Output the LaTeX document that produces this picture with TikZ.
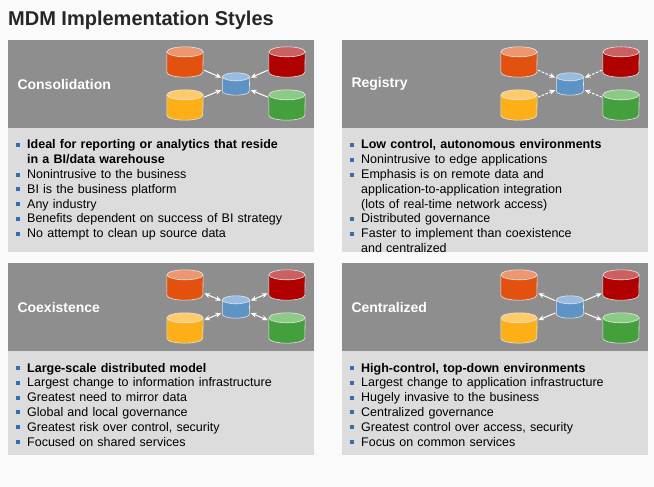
\documentclass[tikz,border=0pt]{standalone}
\usepackage{fontspec}
\setmainfont{Liberation Sans}
\usetikzlibrary{arrows.meta}
\definecolor{headgray}{HTML}{8E8E8E}
\definecolor{bodygray}{HTML}{DCDCDC}
\definecolor{bulblue}{HTML}{2F6DB5}
\definecolor{dbor}{HTML}{E2520E}\definecolor{dbort}{HTML}{EE9670}
\definecolor{dbre}{HTML}{B00000}\definecolor{dbret}{HTML}{CC6060}
\definecolor{dbye}{HTML}{FDAF17}\definecolor{dbyet}{HTML}{FDCB6A}
\definecolor{dbgr}{HTML}{44A03D}\definecolor{dbgrt}{HTML}{8CCB86}
\definecolor{dbbl}{HTML}{5E93C5}\definecolor{dbblt}{HTML}{96BCE0}
\tikzset{
  dbedge/.style={draw=white!80!gray, line width=0.6pt},
  link/.style={draw=white, line width=1pt, -{Stealth[length=6pt,width=5pt]}, shorten >=1pt, shorten <=1pt},
  head/.style={font=\bfseries\fontsize{14}{16}\selectfont, text=white, anchor=west},
  body/.style={anchor=north west, text width=272pt, inner sep=0pt, font=\fontsize{12.5}{14.8}\selectfont, align=left},
}
\newcommand\bul{\par\hangindent=11pt\hangafter=1\noindent\makebox[11pt][l]{\textcolor{bulblue}{\rule[2pt]{4pt}{4pt}}}}
% database: name, x, y, half width, height, top radius, body colour, top colour
\newcommand\dbnode[8]{
  \node[inner sep=0pt, minimum width=2*#4 pt, minimum height=#5 pt] (#1) at (#2,#3) {};
  \fill[#7, dbedge] ([yshift=-#6pt]#1.north west) -- ([yshift=#6pt]#1.south west)
    arc[start angle=180, end angle=360, x radius=#4pt, y radius=#6pt]
    -- ([yshift=-#6pt]#1.north east) -- cycle;
  \fill[#8, dbedge] ([yshift=-#6pt]#1.north) ellipse[x radius=#4pt, y radius=#6pt];
}
% panel: origin x, origin y, body height, header
\newcommand\mdmpanel[4]{
  \fill[headgray] (#1,#2) rectangle ++(306,88);
  \fill[bodygray] (#1,#2+88) rectangle ++(306,#3);
  \node[head] at (#1+6,#2+44) {#4};
}
\newcommand\mdmdbs[3]{
  \dbnode{#3o}{#1+177}{#2+22}{18}{30}{5}{dbor}{dbort}
  \dbnode{#3r}{#1+279}{#2+22}{18}{30}{5}{dbre}{dbret}
  \dbnode{#3y}{#1+177}{#2+65}{18}{30}{5}{dbye}{dbyet}
  \dbnode{#3g}{#1+279}{#2+65}{18}{30}{5}{dbgr}{dbgrt}
  \dbnode{#3c}{#1+228}{#2+44}{13.5}{22}{4}{dbbl}{dbblt}
}
\begin{document}
\begin{tikzpicture}[x=1pt,y=-1pt]
\useasboundingbox (0,0) rectangle (654,487);
\fill[white!96!gray] (0,0) rectangle (654,487);
\node[anchor=west, font=\bfseries\fontsize{20}{22}\selectfont, text=black!85, inner sep=0pt] (title) at (8,20) {MDM Implementation Styles};

\mdmpanel{8}{40}{124}{Consolidation}
\mdmpanel{342}{40}{124}{Registry}
\mdmpanel{8}{263}{104}{Coexistence}
\mdmpanel{342}{263}{104}{Centralized}

\mdmdbs{8}{40}{cons}
\mdmdbs{342}{40}{reg}
\mdmdbs{8}{263}{coex}
\mdmdbs{342}{263}{cent}

\foreach \d in {o,r,y,g}{
  \draw[link] (cons\d) -- (consc);
  \draw[link,dashed,dash pattern=on 2.5pt off 1.5pt] (reg\d) -- (regc);
  \draw[link,{Stealth[length=6pt,width=5pt]}-{Stealth[length=6pt,width=5pt]}] (coex\d) -- (coexc);
  \draw[link] (centc) -- (cent\d);
}

\node[body] (consbody) at (16,134) {%
\bul\textbf{Ideal for reporting or analytics that reside\newline in a BI/data warehouse}
\bul Nonintrusive to the business
\bul BI is the business platform
\bul Any industry
\bul Benefits dependent on success of BI strategy
\bul No attempt to clean up source data\par};
\node[body] (regbody) at (350,134) {%
\bul\textbf{Low control, autonomous environments}
\bul Nonintrusive to edge applications
\bul Emphasis is on remote data and\newline application-to-application integration\newline (lots of real-time network access)
\bul Distributed governance
\bul Faster to implement than coexistence\newline and centralized\par};
\node[body] (coexbody) at (16,357) {%
\bul\textbf{Large-scale distributed model}
\bul Largest change to information infrastructure
\bul Greatest need to mirror data
\bul Global and local governance
\bul Greatest risk over control, security
\bul Focused on shared services\par};
\node[body] (centbody) at (350,357) {%
\bul\textbf{High-control, top-down environments}
\bul Largest change to application infrastructure
\bul Hugely invasive to the business
\bul Centralized governance
\bul Greatest control over access, security
\bul Focus on common services\par};
\end{tikzpicture}
\end{document}
